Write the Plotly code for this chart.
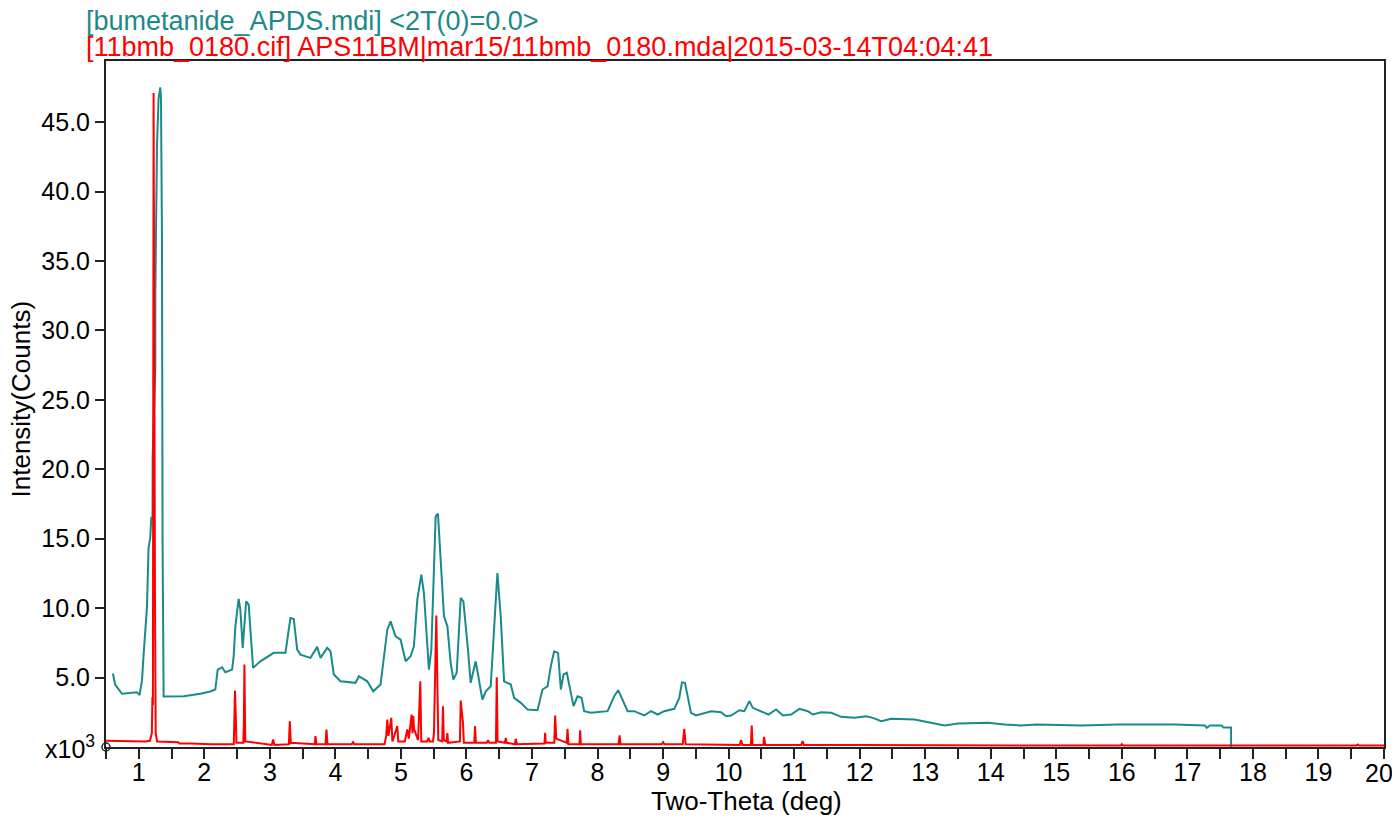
import plotly.graph_objects as go

# measured pattern (bumetanide_APDS.mdi), intensity in x10^3 counts
meas_tt = [0.605, 0.64, 0.743, 0.896, 0.972, 1.012, 1.049, 1.073, 1.099, 1.125,
           1.149, 1.175, 1.191, 1.21, 1.212, 1.252, 1.253, 1.278, 1.302, 1.328,
           1.339, 1.354, 1.363, 1.379, 1.684, 1.939, 2.092, 2.168, 2.204, 2.271,
           2.321, 2.424, 2.448, 2.474, 2.524, 2.55, 2.586, 2.612, 2.638, 2.677,
           2.703, 2.744, 2.856, 3.059, 3.238, 3.279, 3.314, 3.365, 3.417, 3.467,
           3.62, 3.722, 3.773, 3.875, 3.926, 3.976, 4.078, 4.307, 4.358, 4.486,
           4.578, 4.689, 4.792, 4.842, 4.919, 4.995, 5.072, 5.148, 5.198, 5.25,
           5.311, 5.351, 5.403, 5.427, 5.464, 5.504, 5.53, 5.565, 5.606, 5.657,
           5.709, 5.759, 5.8, 5.851, 5.912, 5.953, 6.023, 6.064, 6.141, 6.191,
           6.243, 6.294, 6.37, 6.421, 6.472, 6.523, 6.574, 6.676, 6.727, 6.829,
           6.931, 7.084, 7.16, 7.237, 7.287, 7.337, 7.398, 7.44, 7.481, 7.531,
           7.592, 7.634, 7.695, 7.756, 7.796, 7.898, 8.153, 8.254, 8.315, 8.382,
           8.459, 8.56, 8.712, 8.815, 8.917, 9.018, 9.171, 9.247, 9.288, 9.334,
           9.375, 9.426, 9.503, 9.579, 9.732, 9.885, 9.961, 10.038, 10.164, 10.24,
           10.317, 10.369, 10.495, 10.607, 10.724, 10.827, 10.954, 11.08, 11.209, 11.285,
           11.412, 11.565, 11.718, 11.921, 12.1, 12.202, 12.329, 12.482, 12.838, 13.042,
           13.296, 13.501, 13.959, 14.213, 14.468, 14.697, 15.385, 15.945, 16.454, 16.81,
           17.269, 17.295, 17.345, 17.524, 17.549, 17.666, 17.667]
meas_int = [5.29, 4.5, 3.83, 3.94, 3.94, 3.73, 4.8, 6.58, 8.74, 10.07,
            14.3, 15.07, 16.5, 16.5, 20.9, 27.2, 32.8, 43.3, 46.7, 47.5,
            46.7, 36.7, 14.9, 3.63, 3.65, 3.83, 4.0, 4.14, 5.57, 5.74,
            5.38, 5.57, 6.53, 8.69, 10.66, 9.89, 7.14, 8.69, 10.49, 10.25,
            8.69, 5.7, 6.17, 6.78, 6.78, 8.22, 9.29, 9.22, 7.01, 6.65,
            6.42, 7.21, 6.42, 7.14, 6.89, 5.22, 4.73, 4.62, 5.1, 4.73,
            4.01, 4.5, 8.45, 9.05, 7.97, 7.73, 6.17, 6.53, 7.25, 10.61,
            12.41, 11.09, 7.25, 5.57, 7.01, 12.53, 16.6, 16.8, 13.25, 9.41,
            8.69, 6.06, 4.86, 5.34, 10.73, 10.49, 7.01, 4.62, 6.17, 4.73,
            3.42, 4.01, 4.37, 8.45, 12.53, 9.41, 4.73, 4.5, 3.54, 3.18,
            2.7, 2.65, 4.14, 4.37, 5.81, 6.89, 6.78, 4.14, 5.22, 5.34,
            3.9, 2.94, 3.65, 3.54, 2.58, 2.46, 2.58, 3.65, 4.09, 3.42,
            2.58, 2.58, 2.27, 2.58, 2.34, 2.58, 2.75, 3.54, 4.66, 4.62,
            3.65, 2.46, 2.27, 2.39, 2.58, 2.5, 2.22, 2.27, 2.65, 2.58,
            3.3, 2.82, 2.58, 2.34, 2.7, 2.27, 2.34, 2.75, 2.58, 2.34,
            2.5, 2.46, 2.17, 2.1, 2.22, 2.1, 1.86, 2.03, 1.98, 1.78,
            1.55, 1.69, 1.74, 1.62, 1.55, 1.62, 1.55, 1.62, 1.64, 1.62,
            1.55, 1.38, 1.55, 1.55, 1.4, 1.4, 0.0]

# reference pattern (11bmb_0180.cif)
ref_tt = [0.5, 0.8, 1.1, 1.17, 1.2, 1.208, 1.216, 1.226, 1.236, 1.247,
          1.258, 1.28, 1.6, 1.62, 1.8, 2.1, 2.45, 2.468, 2.478, 2.49,
          2.595, 2.603, 2.612, 2.625, 3.03, 3.05, 3.07, 3.29, 3.304, 3.32,
          3.685, 3.696, 3.71, 3.85, 3.864, 3.88, 4.25, 4.27, 4.29, 4.75,
          4.775, 4.792, 4.81, 4.853, 4.87, 4.945, 4.96, 5.06, 5.097, 5.12,
          5.163, 5.176, 5.189, 5.2, 5.262, 5.275, 5.296, 5.31, 5.4, 5.42,
          5.44, 5.49, 5.504, 5.54, 5.556, 5.57, 5.63, 5.641, 5.655, 5.695,
          5.709, 5.72, 5.9, 5.912, 5.947, 5.96, 6.12, 6.13, 6.145, 6.31,
          6.33, 6.35, 6.45, 6.462, 6.475, 6.585, 6.6, 6.615, 6.74, 6.752,
          6.77, 7.19, 7.2, 7.21, 7.34, 7.353, 7.37, 7.53, 7.542, 7.555,
          7.725, 7.735, 7.745, 8.32, 8.337, 8.35, 8.98, 9.0, 9.02, 9.3,
          9.323, 9.345, 10.17, 10.19, 10.21, 10.34, 10.353, 10.365, 10.53, 10.54,
          10.56, 11.11, 11.13, 11.15, 12.0, 13.0, 14.0, 15.0, 15.98, 16.0,
          16.02, 17.0, 18.0, 19.58, 19.6, 19.62, 20.0]
ref_int = [0.45, 0.42, 0.4, 0.45, 1.0, 3.6, 3.0, 47.1, 20.0, 11.1,
           1.0, 0.4, 0.35, 0.25, 0.25, 0.2, 0.2, 4.06, 2.6, 0.3,
           0.3, 1.6, 5.94, 0.4, 0.15, 0.54, 0.15, 0.2, 1.86, 0.3,
           0.2, 0.78, 0.2, 0.2, 1.26, 0.2, 0.2, 0.35, 0.2, 0.2,
           0.8, 1.98, 0.8, 2.1, 0.4, 1.5, 0.4, 0.4, 1.26, 0.6,
           2.34, 1.0, 2.22, 1.3, 0.5, 2.94, 4.73, 0.4, 0.4, 0.65,
           0.4, 0.4, 1.0, 9.46, 5.1, 0.5, 0.4, 2.94, 0.5, 0.4,
           1.0, 0.3, 0.4, 3.35, 1.74, 0.3, 0.3, 1.5, 0.3, 0.3,
           0.5, 0.3, 0.3, 5.02, 0.4, 0.3, 0.66, 0.3, 0.2, 0.59,
           0.2, 0.25, 1.02, 0.3, 0.3, 2.27, 0.6, 0.3, 1.31, 0.2,
           0.2, 1.21, 0.2, 0.2, 0.83, 0.2, 0.2, 0.35, 0.2, 0.2,
           1.31, 0.2, 0.15, 0.5, 0.15, 0.15, 1.55, 0.15, 0.15, 0.73,
           0.15, 0.15, 0.42, 0.15, 0.15, 0.12, 0.12, 0.1, 0.1, 0.2,
           0.1, 0.1, 0.1, 0.1, 0.18, 0.1, 0.1]

x_ticks = list(range(1, 21))
x_labels = [str(v) for v in range(1, 20)] + [""]   # "20" is drawn as an annotation
x_minor = [v + 0.5 for v in range(0, 20)]
y_ticks = [5, 10, 15, 20, 25, 30, 35, 40, 45]

TEAL = "#1a8a8a"
RED = "#ff0000"
FONT = "Arial, Liberation Sans, sans-serif"

fig = go.Figure()
fig.add_trace(go.Scatter(x=meas_tt, y=meas_int, mode="lines",
                         line=dict(color=TEAL, width=2), showlegend=False))
fig.add_trace(go.Scatter(x=ref_tt, y=ref_int, mode="lines",
                         line=dict(color=RED, width=2), showlegend=False))
# little circle at the origin
fig.add_trace(go.Scatter(x=[0.5], y=[0], mode="markers", cliponaxis=False,
                         marker=dict(symbol="circle-open", size=8,
                                     color="#222", line=dict(width=1.5)),
                         showlegend=False, hoverinfo="skip"))

# the page body keeps an 8px margin, so the figure sits at (8, 8)
# and must stay 16px smaller than the window to avoid scrollbars
fig.update_layout(
    width=1384, height=808,
    margin=dict(l=98, r=8, t=53, b=69),
    paper_bgcolor="white", plot_bgcolor="white",
    font=dict(family=FONT, size=25, color="black"),
    xaxis=dict(range=[0.5, 20], tickvals=x_ticks, ticktext=x_labels,
               ticks="outside", ticklen=10,
               tickwidth=2, tickcolor="#222", showgrid=False, zeroline=False,
               showline=True, linecolor="#222", linewidth=2, mirror=True,
               ticklabelstandoff=-8, automargin=False,
               minor=dict(tickvals=x_minor, ticks="outside", ticklen=10,
                          tickwidth=2, tickcolor="#222"),
               tickfont=dict(size=25)),
    yaxis=dict(range=[0, 49.4], tickvals=y_ticks, tickformat=".1f",
               ticks="outside", ticklen=9, tickwidth=2, tickcolor="#222",
               showgrid=False, zeroline=False, showline=True,
               linecolor="#222", linewidth=2, mirror=True, automargin=False,
               tickfont=dict(size=25)),
    annotations=[
        dict(text="[bumetanide_APDS.mdi] <2T(0)=0.0>", xref="paper", yref="paper",
             x=-0.0172, y=1.0583, xanchor="left", yanchor="middle", showarrow=False,
             font=dict(size=27, color=TEAL)),
        dict(text="[11bmb_0180.cif] APS11BM|mar15/11bmb_0180.mda|2015-03-14T04:04:41",
             xref="paper", yref="paper", x=-0.0172, y=1.0204, xanchor="left",
             yanchor="middle", showarrow=False, font=dict(size=27, color=RED)),
        dict(text="20", xref="x", yref="paper", x=x_ticks[-1], y=-0.0379,
             xanchor="center", yanchor="middle", xshift=-5, showarrow=False,
             font=dict(size=25)),
        dict(text="Two-Theta (deg)", xref="paper", yref="paper", x=0.501,
             y=-0.079, xanchor="center", yanchor="middle", showarrow=False,
             font=dict(size=26)),
        dict(text="Intensity(Counts)", xref="paper", yref="paper", x=-0.0665,
             y=0.5066, xanchor="center", yanchor="middle", textangle=-90,
             showarrow=False, font=dict(size=26)),
        dict(text="x10<sup>3</sup>", xref="paper", yref="paper", x=-0.007,
             y=0.0, xanchor="right", yanchor="middle", showarrow=False,
             font=dict(size=25)),
    ],
)

fig.write_html("out.html")
